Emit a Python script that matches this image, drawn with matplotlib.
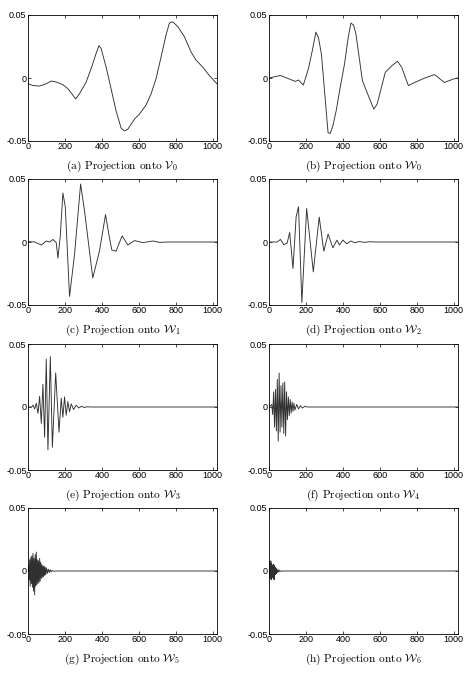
import matplotlib
matplotlib.use('Agg')
import matplotlib.pyplot as plt

plt.rcParams['mathtext.fontset'] = 'cm'
plt.rcParams['axes.unicode_minus'] = False

# (a) projection onto V0
xa = [0, 27, 63, 99, 126, 153, 189, 216, 240, 258, 279, 315, 342, 369, 384, 396,
      423, 450, 477, 505, 523, 541, 559, 577, 604, 640, 667, 694, 721, 748, 766,
      784, 811, 847, 883, 910, 946, 982, 1023]
ya = [-0.0045, -0.006, -0.0064, -0.0045, -0.0024, -0.0032, -0.0053, -0.0085, -0.013,
      -0.0166, -0.0125, -0.0032, 0.0075, 0.0195, 0.0256, 0.0235, 0.0088, -0.0085,
      -0.026, -0.040, -0.042, -0.0406, -0.0366, -0.0326, -0.0286, -0.0214, -0.0125,
      -0.0005, 0.0168, 0.0342, 0.0436, 0.0446, 0.0409, 0.0329, 0.0208, 0.0142,
      0.0088, 0.0021, -0.0045]

# (b) projection onto W0
xb = [0, 62, 142, 160, 186, 213, 235, 254, 268, 284, 320, 332, 346, 364, 385, 409,
      430, 444, 458, 471, 506, 542, 568, 586, 630, 666, 696, 719, 755, 790, 844,
      897, 950, 1000, 1023]
yb = [0.0, 0.002, -0.0027, -0.0016, -0.0056, 0.007, 0.022, 0.0364, 0.032, 0.019,
      -0.0434, -0.044, -0.038, -0.026, -0.008, 0.011, 0.033, 0.0436, 0.042, 0.035,
      -0.002, -0.0154, -0.0247, -0.0207, 0.0045, 0.0098, 0.0133, 0.0085, -0.006,
      -0.0035, 0.0, 0.0027, -0.0035, -0.0008, 0.0]

# (c) projection onto W1
xc = [0, 36, 72, 99, 117, 135, 153, 162, 175, 189, 202, 225, 252, 285, 306, 351,
      387, 420, 441, 454, 477, 510, 541, 577, 622, 676, 712, 760, 1023]
yc = [0.0003, 0.0, -0.0024, 0.0008, 0.0, 0.002, -0.0005, -0.0128, 0.005, 0.0389,
      0.028, -0.0432, -0.010, 0.046, 0.025, -0.0285, -0.0073, 0.0217, 0.0035, -0.0063,
      -0.0073, 0.0049, -0.0024, 0.0011, -0.0005, 0.0008, -0.0003, 0.0, 0.0]

# (d) projection onto W2
xd = [0, 44, 62, 80, 98, 112, 130, 147, 160, 178, 204, 240, 272, 297, 320, 346,
      368, 382, 400, 421, 444, 465, 490, 515, 545, 580, 1023]
yd = [0.0, 0.0, 0.002, -0.002, -0.001, 0.0076, -0.021, 0.020, 0.028, -0.048, 0.0266,
      -0.0237, 0.0198, -0.0073, 0.0062, -0.0046, 0.0014, -0.0024, 0.0016, -0.0014,
      0.0008, -0.0006, 0.0004, -0.0003, 0.0002, 0.0, 0.0]

# (e) projection onto W3
xe = [0, 20, 27, 36, 45, 54, 63, 72, 81, 90, 99, 108, 121, 132, 150, 168, 180, 189,
      198, 207, 216, 225, 234, 247, 261, 276, 290, 305, 320, 340, 1023]
ye = [0.0, 0.0, 0.0015, -0.0015, 0.003, -0.005, 0.0085, -0.013, 0.018, -0.024, 0.038,
      -0.034, 0.040, -0.032, 0.027, -0.020, 0.007, -0.008, 0.008, -0.0065, 0.0043,
      -0.0038, 0.0025, -0.002, 0.0014, -0.0008, 0.0006, -0.0004, 0.0002, 0.0, 0.0]

# (f) projection onto W4
xf = [0, 15, 20, 25, 30, 35, 40, 45, 50, 55, 60, 65, 70, 75, 80, 85, 90, 95, 100,
      105, 110, 115, 120, 125, 130, 135, 140, 150, 160, 170, 180, 195, 210, 1023]
yf = [0.0, 0.002, -0.006, 0.012, -0.016, 0.014, -0.019, 0.022, -0.027, 0.027, -0.020,
      0.017, -0.016, 0.019, -0.021, 0.020, -0.023, 0.012, -0.010, 0.008, -0.007, 0.006,
      -0.005, 0.004, -0.0035, 0.003, -0.0025, 0.002, -0.0015, 0.001, -0.0008, 0.0005,
      0.0, 0.0]

# (g) projection onto W5
xg = [0, 3, 6, 9, 12, 15, 18, 21, 24, 27, 30, 33, 36, 39, 42, 45, 48, 51, 54, 57,
      60, 63, 66, 69, 72, 75, 78, 81, 84, 87, 90, 93, 96, 100, 105, 110, 115, 120,
      125, 130, 140, 150, 1023]
yg = [0.0, 0.004, -0.007, 0.009, -0.012, 0.011, -0.010, 0.012, -0.013, 0.014, -0.016,
      0.010, -0.019, 0.013, -0.012, 0.015, -0.011, 0.009, -0.010, 0.008, -0.009, 0.010,
      -0.008, 0.007, -0.006, 0.005, -0.005, 0.004, -0.0045, 0.004, -0.0035, 0.003,
      -0.003, 0.0025, -0.002, 0.0015, -0.0012, 0.001, -0.0008, 0.0005, -0.0003, 0.0, 0.0]

# (h) projection onto W6
xh = [0, 2, 4, 6, 8, 10, 12, 14, 16, 18, 20, 22, 24, 26, 28, 30, 32, 34, 36, 38, 40,
      43, 46, 50, 54, 58, 65, 75, 1023]
yh = [0.0, 0.003, -0.005, 0.007, -0.006, 0.008, -0.007, 0.006, -0.005, 0.004, -0.005,
      0.005, -0.006, 0.005, -0.007, 0.004, -0.003, 0.003, -0.0025, 0.002, -0.002,
      0.0015, -0.0012, 0.001, -0.0008, 0.0005, -0.0003, 0.0, 0.0]

series = [(xa, ya), (xb, yb), (xc, yc), (xd, yd), (xe, ye), (xf, yf), (xg, yg), (xh, yh)]
captions = [r'(a) Projection onto $\mathcal{V}_0$',
            r'(b) Projection onto $\mathcal{W}_0$',
            r'(c) Projection onto $\mathcal{W}_1$',
            r'(d) Projection onto $\mathcal{W}_2$',
            r'(e) Projection onto $\mathcal{W}_3$',
            r'(f) Projection onto $\mathcal{W}_4$',
            r'(g) Projection onto $\mathcal{W}_5$',
            r'(h) Projection onto $\mathcal{W}_6$']

W, H = 474, 675
fig = plt.figure(figsize=(W / 100, H / 100), dpi=100)
fig.patch.set_facecolor('white')

lefts = [28, 269]
tops = [15, 179, 344, 508]
aw, ah = 189, 126

for i, (x, y) in enumerate(series):
    r, c = divmod(i, 2)
    ax = fig.add_axes([lefts[c] / W, 1 - (tops[r] + ah) / H, aw / W, ah / H])
    ax.plot(x, y, color='#303030', lw=0.65)
    ax.set_xlim(0, 1024)
    ax.set_ylim(-0.05, 0.05)
    ax.set_xticks([0, 200, 400, 600, 800, 1000])
    ax.set_yticks([-0.05, 0, 0.05])
    ax.set_yticklabels(['-0.05', '0', '0.05'])
    ax.tick_params(direction='in', length=2, width=0.5, labelsize=6.5, pad=1.0,
                   top=True, right=True)
    for lab in ax.get_xticklabels() + ax.get_yticklabels():
        lab.set_fontfamily('Liberation Sans')
    for s in ax.spines.values():
        s.set_linewidth(0.6)
    fig.text((lefts[c] + aw / 2) / W, 1 - (tops[r] + ah + 25) / H, captions[i],
             ha='center', va='center', fontsize=8.2, fontfamily='cmr10')

fig.savefig('out.png', dpi=100)
